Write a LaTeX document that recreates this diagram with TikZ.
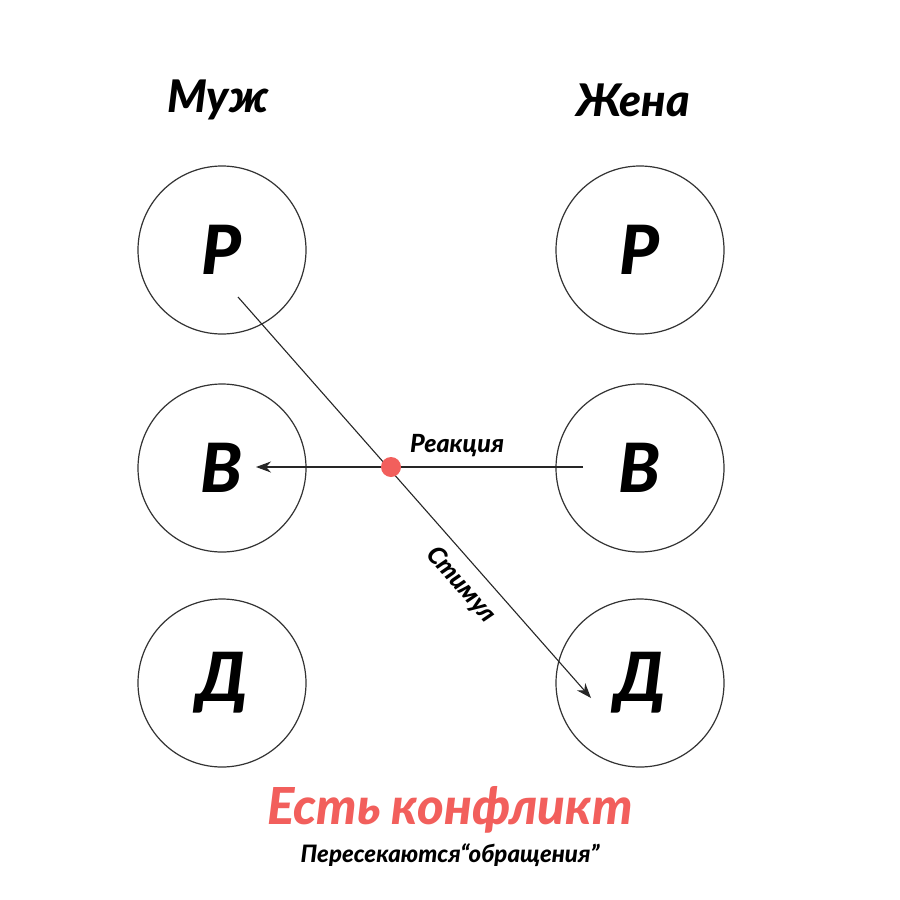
\documentclass[tikz,border=0pt]{standalone}
\usepackage{fontspec}
\setmainfont{Lato}[BoldFont=Lato Black, BoldItalicFont=Lato Black Italic]
\usetikzlibrary{arrows.meta}
\definecolor{acc}{HTML}{F25F5C}
\tikzset{circ/.style={circle,draw=black!80,line width=1.2pt,minimum size=168pt,inner sep=0pt,font=\fontsize{68}{68}\selectfont\bfseries\itshape},
lab/.style={font=\fontsize{45}{45}\selectfont\bfseries\itshape},
sm/.style={font=\fontsize{25}{25}\selectfont\bfseries\itshape},
ln/.style={draw=black!85,line width=1.1pt,-{Stealth[length=15pt,width=11pt]}}}
\begin{document}
\begin{tikzpicture}[x=1pt,y=-1pt]
\useasboundingbox[fill=white] (0,0) rectangle (900,900);
\node[lab] (t1) at (218,100) {Муж};
\node[lab] (t2) at (633,100) {Жена};
\node[circ] (mp) at (222,250) {P};
\node[circ] (mv) at (222,468) {B};
\node[circ] (md) at (222,683) {Д};
\node[circ] (wp) at (640,250) {P};
\node[circ] (wv) at (640,468) {B};
\node[circ] (wd) at (640,683) {Д};
\coordinate (s1) at (238,297);
\coordinate (s2) at (591,698);
\coordinate (r1) at (583,467);
\coordinate (r2) at (256,467);
\draw[ln] (s1) -- (s2);
\draw[ln] (r1) -- (r2);
\node[circle,fill=acc,inner sep=0pt,minimum size=20pt] (dot) at (391,467) {};
\node[sm] (re) at (457,446) {Реакция};
\node[sm,rotate=-48.7] (st) at (461,585) {Стимул};
\node[font=\fontsize{51}{51}\selectfont\bfseries\itshape,text=acc] (k) at (450,810) {Есть конфликт};
\node[font=\fontsize{24}{24}\selectfont\bfseries\itshape] (sub) at (450,855) {Пересекаются“обращения”};
\end{tikzpicture}
\end{document}
